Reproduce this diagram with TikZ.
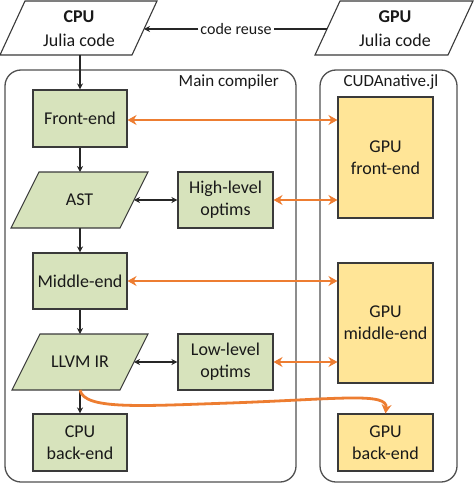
\documentclass[tikz,border=0pt]{standalone}
\usepackage{fontspec}
\setmainfont{Carlito}
\usetikzlibrary{arrows.meta}
\definecolor{boxgreen}{HTML}{D7E3BC}
\definecolor{boxyellow}{HTML}{FFE597}
\definecolor{orng}{HTML}{ED7D31}
\definecolor{edgec}{HTML}{3A3A3A}
\definecolor{contedge}{HTML}{505050}
\begin{document}
\begin{tikzpicture}[x=1pt,y=-1pt,
 txt/.style={font=\fontsize{18}{22}\selectfont, align=center, text=black!90, inner sep=0pt},
 gbox/.style={draw=edgec, fill=boxgreen, line width=1.1pt, minimum width=94pt, minimum height=57pt, txt},
 ybox/.style={draw=edgec, fill=boxyellow, line width=1.1pt, minimum width=95pt, txt},
 para/.style={draw=edgec, line width=1.1pt},
 cont/.style={draw=contedge, line width=1.3pt, rounded corners=16pt},
 blk/.style={draw=black!85, line width=1.2pt, -{Stealth[length=6pt,width=6pt]}},
 blktwo/.style={draw=black!85, line width=1.2pt, {Stealth[length=6pt,width=6pt]}-{Stealth[length=6pt,width=6pt]}},
 org/.style={draw=orng, line width=2.8pt, {Stealth[length=9pt,width=10pt]}-{Stealth[length=9pt,width=10pt]}},
]
\useasboundingbox (0,0) rectangle (474,484);

% containers
\draw[cont] (5,70) rectangle (296,482);
\draw[cont] (320,70) rectangle (457,482);
\node[txt, font=\fontsize{17}{20}\selectfont, anchor=east] (mclab) at (279,82) {Main compiler};
\node[txt, font=\fontsize{17}{20}\selectfont] (cudalab) at (391,82) {CUDAnative.jl};

% top parallelograms
\draw[para, fill=white] (25,1) -- (157,1) -- (132,55) -- (0,55) -- cycle;
\node[txt, font=\fontsize{18}{24}\selectfont] (cpu) at (79,29) {\textbf{CPU}\\Julia code};
\draw[para, fill=white] (340,1) -- (473,1) -- (448,55) -- (315,55) -- cycle;
\node[txt, font=\fontsize{18}{24}\selectfont] (gpu) at (395,29) {\textbf{GPU}\\Julia code};
\coordinate (cpuR) at (144,29);
\coordinate (cpuB) at (80,55);
\coordinate (gpuL) at (327,29);
\node[txt, font=\fontsize{16}{19}\selectfont, inner xsep=2pt] (cr) at (236,29) {code reuse};
\draw[draw=black!85, line width=1.2pt] (gpuL) -- (cr);
\draw[blk] (cr) -- (cpuR);

% main compiler boxes
\node[gbox] (fe) at (80,118.5) {Front-end};
\draw[para, fill=boxgreen] (39,172) -- (148,172) -- (120,228) -- (11,228) -- cycle;
\node[txt] (ast) at (79.5,200) {AST};
\coordinate (astT) at (80,172);
\coordinate (astB) at (80,228);
\coordinate (astR) at (134,200);
\node[gbox, minimum width=95pt, minimum height=56pt] (hl) at (225.5,200) {High-level\\optims};
\node[gbox, minimum height=56pt] (me) at (80,281) {Middle-end};
\draw[para, fill=boxgreen] (40,334) -- (148,334) -- (120,390) -- (12,390) -- cycle;
\node[txt] (llvm) at (80,362) {LLVM IR};
\coordinate (llT) at (80,334);
\coordinate (llB) at (80,390);
\coordinate (llR) at (134,362);
\node[gbox, minimum width=95pt, minimum height=56pt] (ll) at (225.5,362) {Low-level\\optims};
\node[gbox] (cb) at (80,442.5) {CPU\\back-end};

% GPU boxes
\node[ybox, minimum height=121pt] (gfe) at (385.5,157.5) {GPU\\front-end};
\node[ybox, minimum height=120pt] (gme) at (385.5,323) {GPU\\middle-end};
\node[ybox, minimum height=57pt] (gbe) at (385.5,442.5) {GPU\\back-end};

% black arrows
\draw[blk] (cpuB) -- (fe.north);
\draw[blk] (fe.south) -- (astT);
\draw[blk] (astB) -- (me.north);
\draw[blk] (me.south) -- (llT);
\draw[blk] (llB) -- (cb.north);
\draw[blktwo] (astR) -- (hl.west);
\draw[blktwo] (llR) -- (ll.west);

% orange arrows
\draw[org] (fe.east |- 0,120) -- (gfe.west |- 0,120);
\draw[org] (hl.east) -- (hl.east -| gfe.west);
\draw[org] (me.east) -- (me.east -| gme.west);
\draw[org] (ll.east) -- (ll.east -| gme.west);
\coordinate (cmid) at (230,403);
\draw[draw=orng, line width=2.8pt, -{Stealth[length=9pt,width=10pt]}]
  (llB) .. controls (84,410) and (140,406) .. (cmid)
  .. controls (340,399) and (388,392) .. (gbe.north);
\end{tikzpicture}
\end{document}
